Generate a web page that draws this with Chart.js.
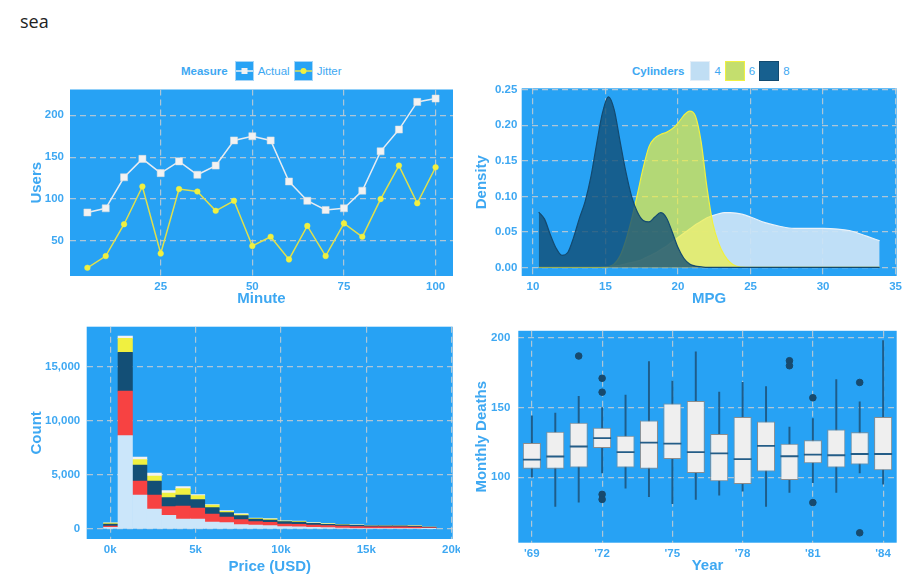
<!DOCTYPE html>
<html lang="en">
<head>
<meta charset="UTF-8">
<title>sea</title>
<script src="https://cdn.jsdelivr.net/npm/chart.js"></script>
<style>
  body { margin: 0; background: #fff; font-family: 'Liberation Sans', Arial, sans-serif; }
  #page { position: relative; width: 917px; height: 577px; overflow: hidden; }
  #title { position: absolute; left: 20px; top: 9px; font-family: 'Open Sans', sans-serif; font-size: 18px; line-height: 24px; color: #222; }
  canvas { position: absolute; }
  .legend { position: absolute; display: flex; align-items: center; height: 21px; color: #3ea8f2; font-size: 11.5px; white-space: nowrap; }
  .legend b { margin-right: 7px; }
  .legend svg { margin-right: 4px; display: block; }
  .legend span { margin-right: 4px; }
</style>
</head>
<body>
<div id="page">
  <div id="title">sea</div>

  <div class="legend" style="left:181px; top:60px;">
    <b>Measure</b>
    <svg width="19" height="20"><rect x="0.5" y="0.5" width="18" height="19" fill="#28a3f5" stroke="#a6d6f8"/><line x1="1" y1="10" x2="18" y2="10" stroke="#eef2f5" stroke-width="1.5"/><rect x="6.5" y="7" width="6" height="6" fill="#f2f2f2"/></svg>
    <span>Actual</span>
    <svg width="19" height="20"><rect x="0.5" y="0.5" width="18" height="19" fill="#28a3f5" stroke="#a6d6f8"/><line x1="1" y1="10" x2="18" y2="10" stroke="#e0e050" stroke-width="1.5"/><circle cx="9.5" cy="10" r="3" fill="#f0f040"/></svg>
    <span>Jitter</span>
  </div>

  <div class="legend" style="left:632px; top:60px;">
    <b style="margin-right:6px">Cylinders</b>
    <svg width="20" height="20"><rect x="0.5" y="0.5" width="19" height="19" fill="#c0def4" stroke="#e4eef8"/></svg>
    <span>4</span>
    <svg width="20" height="20"><rect x="0.5" y="0.5" width="19" height="19" fill="#c4de6e" stroke="#f0f040"/></svg>
    <span>6</span>
    <svg width="20" height="20"><rect x="0.5" y="0.5" width="19" height="19" fill="#17608f" stroke="#124a70"/></svg>
    <span>8</span>
  </div>

  <canvas id="usersChart" width="440" height="226" style="left:20px; top:84px;"></canvas>
  <canvas id="mpgChart" width="457" height="226" style="left:460px; top:84px;"></canvas>
  <canvas id="priceChart" width="440" height="257" style="left:20px; top:320px;"></canvas>
  <canvas id="deathsChart" width="457" height="257" style="left:460px; top:320px;"></canvas>
</div>

<script>
// ---- top left: users per minute ----
const minutes = [5, 10, 15, 20, 25, 30, 35, 40, 45, 50, 55, 60, 65, 70, 75, 80, 85, 90, 95, 100];
const actualUsers = [84, 89, 126, 148, 131, 145, 129, 140, 170, 175, 170, 121, 98, 87, 89, 110, 157, 183, 216, 220];
const jitterUsers = [18, 32, 70, 115, 35, 112, 109, 86, 98, 44, 55, 28, 68, 32, 71, 55, 100, 140, 95, 138];
const minuteTicks = [25, 50, 75, 100];
const minuteLabels = ['25', '50', '75', '100'];
const userTicks = [50, 100, 150, 200];
const userLabels = ['50', '100', '150', '200'];

// ---- top right: mpg density by cylinders ----
const mpgGrid = [10.4, 10.8, 11.2, 11.6, 12.0, 12.4, 12.8, 13.2, 13.6, 14.0, 14.4, 14.8, 15.2, 15.6, 16.0, 16.4, 16.8, 17.2,
  17.6, 18.0, 18.4, 18.8, 19.2, 19.6, 20.0, 20.4, 20.8, 21.2, 21.6, 22.0, 22.4, 22.8, 23.2, 23.6, 24.0, 24.4,
  25, 26, 27, 28, 29, 30, 31, 32, 33, 33.9];
const density4 = [0, 0, 0, 0, 0, 0, 0, 0, 0, 0, 0, 0.0005, 0.001, 0.002, 0.003, 0.005, 0.007, 0.009,
  0.012, 0.016, 0.020, 0.025, 0.030, 0.036, 0.042, 0.048, 0.054, 0.060, 0.065, 0.070, 0.073, 0.0755, 0.077, 0.077, 0.0765, 0.075,
  0.071, 0.063, 0.058, 0.055, 0.055, 0.055, 0.054, 0.051, 0.044, 0.0375];
const density6 = [0, 0, 0, 0, 0, 0, 0, 0, 0, 0, 0, 0, 0.001, 0.005, 0.016, 0.038, 0.068, 0.103,
  0.140, 0.170, 0.182, 0.187, 0.190, 0.195, 0.203, 0.214, 0.220, 0.213, 0.176, 0.112, 0.062, 0.034, 0.017, 0.007, 0.002, 0.0005,
  0, 0, 0, 0, 0, 0, 0, 0, 0, 0];
const density8 = [0.078, 0.068, 0.046, 0.027, 0.017, 0.021, 0.042, 0.069, 0.093, 0.128, 0.175, 0.218, 0.240, 0.222, 0.178, 0.135, 0.100, 0.078,
  0.066, 0.064, 0.071, 0.077, 0.070, 0.050, 0.028, 0.013, 0.005, 0.002, 0.001, 0, 0, 0, 0, 0, 0, 0,
  0, 0, 0, 0, 0, 0, 0, 0, 0, 0];
const mpgTicks = [10, 15, 20, 25, 30, 35];
const mpgLabels = ['10', '15', '20', '25', '30', '35'];
const densityTicks = [0, 0.05, 0.10, 0.15, 0.20, 0.25];
const densityLabels = ['0.00', '0.05', '0.10', '0.15', '0.20', '0.25'];

// ---- bottom left: price histogram stacked by cut ----
const priceBins = [30, 877, 1724, 2571, 3418, 4265, 5112, 5959, 6806, 7653, 8500, 9347, 10194, 11041, 11888, 12735,
  13582, 14429, 15276, 16123, 16970, 17817, 18664];
const countIdeal = [150, 8626, 3142, 1848, 1263, 924, 924, 647, 585, 400, 370, 308, 216, 200, 150, 120, 80, 60, 50, 50, 50, 60, 30];
const countPremium = [130, 4128, 1294, 1294, 801, 1201, 1017, 739, 524, 462, 308, 308, 246, 240, 216, 200, 200, 170, 150, 150, 150, 120, 90];
const countVeryGood = [180, 3574, 1479, 1294, 832, 1017, 770, 585, 400, 370, 246, 216, 216, 210, 160, 120, 110, 110, 90, 90, 90, 100, 50];
const countGood = [90, 1294, 493, 462, 431, 585, 370, 246, 123, 92, 62, 92, 62, 60, 30, 30, 20, 20, 10, 10, 10, 10, 5];
const countFair = [30, 215, 246, 277, 216, 185, 92, 30, 62, 92, 30, 30, 20, 20, 40, 40, 30, 20, 20, 20, 20, 60, 5];
const priceTicks = [0, 5000, 10000, 15000, 20000];
const priceLabels = ['0k', '5k', '10k', '15k', '20k'];
const countTicks = [0, 5000, 10000, 15000];
const countLabels = ['0', '5,000', '10,000', '15,000'];

// ---- bottom right: monthly deaths per year (box plot) ----
const years = [1969, 1970, 1971, 1972, 1973, 1974, 1975, 1976, 1977, 1978, 1979, 1980, 1981, 1982, 1983, 1984];
const whiskerLow = [100, 79, 82, 103, 92, 86, 81, 84, 87, 90, 79, 89, 96, 89, 103, 95];
const boxQ1 = [106, 106, 107, 121, 107, 106, 113, 103, 97, 95, 104, 98, 110, 107, 109, 105];
const boxMedian = [112.6, 114.8, 122, 128, 118, 124.8, 124, 118, 117, 113, 122.5, 115, 116.2, 115.7, 116.6, 116.6];
const boxQ3 = [124.6, 132.6, 139, 135.4, 129.7, 140.7, 152.9, 154.6, 130.9, 143.1, 140, 123.9, 126.5, 134.2, 132.3, 143.1];
const whiskerHigh = [144, 146, 158, 150, 159, 183, 169, 190, 161, 168, 165, 136, 142, 170, 154, 198];
const outlierYears = [1971, 1972, 1972, 1972, 1972, 1980, 1980, 1981, 1981, 1983, 1983];
const outlierDeaths = [187, 171, 161, 87.6, 84, 183.6, 180, 157, 81.7, 168, 60];
const yearTicks = [1969, 1972, 1975, 1978, 1981, 1984];
const yearLabels = ["'69", "'72", "'75", "'78", "'81", "'84"];
const deathTicks = [100, 150, 200];
const deathLabels = ['100', '150', '200'];

// ---- shared look ----
const PANEL = '#27a2f4';
const GRID = 'rgba(208, 208, 208, 0.8)';
Chart.defaults.font.family = "'Liberation Sans', Arial, sans-serif";
Chart.defaults.color = '#3ea8f2';
Chart.defaults.animation = false;

const panelBg = {
  id: 'panelBg',
  beforeDraw(chart) {
    const a = chart.chartArea, ctx = chart.ctx;
    ctx.save();
    ctx.fillStyle = PANEL;
    ctx.fillRect(a.left, a.top, a.right - a.left, a.bottom - a.top);
    ctx.restore();
  }
};

function axis(o) {
  const horizontal = o.pos === 'x';
  return {
    type: 'linear', min: o.min, max: o.max, offset: false, stacked: !!o.stacked,
    afterBuildTicks: s => { s.ticks = o.ticks.map(v => ({ value: v })); },
    afterFit: s => {
      if (horizontal) { s.height = o.size; s.paddingLeft = 0; s.paddingRight = 0; }
      else { s.width = o.size; s.paddingTop = 0; s.paddingBottom = 0; }
    },
    ticks: { autoSkip: false, maxRotation: 0, padding: o.tickPad, font: { size: 11.5, weight: 'bold' }, callback: (v, i) => o.labels[i] },
    grid: { color: GRID, lineWidth: 1.2, drawTicks: false, offset: false },
    border: { display: false, dash: [6, 4] },
    title: { display: true, text: o.title, font: { size: 15, weight: 'bold' },
      padding: horizontal ? { top: 0, bottom: o.titlePad } : { top: o.titlePad, bottom: 0 } }
  };
}

const basePlugins = { legend: { display: false }, tooltip: { enabled: false } };

// top left
new Chart(document.getElementById('usersChart'), {
  type: 'line',
  data: {
    datasets: [
      { label: 'Actual', data: minutes.map((m, i) => ({ x: m, y: actualUsers[i] })),
        borderColor: '#e6ecf2', borderWidth: 1.5, pointStyle: 'rect', pointRadius: 5,
        pointBackgroundColor: '#f2f2f2', pointBorderColor: '#dcdcdc', pointBorderWidth: 0.5 },
      { label: 'Jitter', data: minutes.map((m, i) => ({ x: m, y: jitterUsers[i] })),
        borderColor: '#dfe04c', borderWidth: 1.5, pointStyle: 'circle', pointRadius: 2.8,
        pointBackgroundColor: '#f0f040', pointBorderColor: '#f0f040', pointBorderWidth: 0.5 }
    ]
  },
  options: {
    responsive: false,
    layout: { padding: { top: 4, right: 7, left: 0, bottom: 0 } },
    plugins: basePlugins,
    scales: {
      x: axis({ pos: 'x', min: 0.25, max: 104.75, ticks: minuteTicks, labels: minuteLabels, title: 'Minute', size: 34, tickPad: 4.4, titlePad: 1.7 }),
      y: axis({ pos: 'y', min: 8.2, max: 230.8, ticks: userTicks, labels: userLabels, title: 'Users', size: 50, tickPad: 6, titlePad: 8 })
    }
  },
  plugins: [panelBg]
});

// top right
function densityData(vals) { return mpgGrid.map((m, i) => ({ x: m, y: vals[i] })); }
new Chart(document.getElementById('mpgChart'), {
  type: 'line',
  data: {
    datasets: [
      { label: '8', data: densityData(density8), fill: 'origin', backgroundColor: 'rgba(19, 79, 118, 0.8)',
        borderColor: '#134a70', borderWidth: 1.2, pointRadius: 0, cubicInterpolationMode: 'monotone' },
      { label: '6', data: densityData(density6), fill: 'origin', backgroundColor: 'rgba(240, 240, 64, 0.7)',
        borderColor: '#f0f040', borderWidth: 1.2, pointRadius: 0, cubicInterpolationMode: 'monotone' },
      { label: '4', data: densityData(density4), fill: 'origin', backgroundColor: 'rgba(204, 228, 246, 0.92)',
        borderColor: '#eaf2f9', borderWidth: 1.2, pointRadius: 0, cubicInterpolationMode: 'monotone' }
    ]
  },
  options: {
    responsive: false,
    layout: { padding: { top: 4.3, right: 20.3, left: 0, bottom: 0 } },
    plugins: basePlugins,
    scales: {
      x: axis({ pos: 'x', min: 9.225, max: 35.075, ticks: mpgTicks, labels: mpgLabels, title: 'MPG', size: 34, tickPad: 4.4, titlePad: 1.7 }),
      y: axis({ pos: 'y', min: -0.012, max: 0.252, ticks: densityTicks, labels: densityLabels, title: 'Density', size: 61.7, tickPad: 4.4, titlePad: 13 })
    }
  },
  plugins: [panelBg]
});

// bottom left
function binData(vals) { return priceBins.map((b, i) => ({ x: b, y: vals[i] })); }
const cutSeries = [
  ['Ideal', countIdeal, '#cbe6fa'],
  ['Premium', countPremium, '#f74242'],
  ['Very Good', countVeryGood, '#134f76'],
  ['Good', countGood, '#f0f040'],
  ['Fair', countFair, '#f2f2f2']
];
new Chart(document.getElementById('priceChart'), {
  type: 'bar',
  data: {
    datasets: cutSeries.map(([name, vals, color]) => ({
      label: name, data: binData(vals), backgroundColor: color, borderWidth: 0,
      barPercentage: 1, categoryPercentage: 1
    }))
  },
  options: {
    responsive: false,
    layout: { padding: { top: 6.7, right: 7.3, left: 0, bottom: 0 } },
    plugins: basePlugins,
    scales: {
      x: axis({ pos: 'x', min: -1380, max: 20060, ticks: priceTicks, labels: priceLabels, title: 'Price (USD)', size: 38, tickPad: 4.1, titlePad: 1.3, stacked: true }),
      y: axis({ pos: 'y', min: -924, max: 18697, ticks: countTicks, labels: countLabels, title: 'Count', size: 66.7, tickPad: 6.5, titlePad: 8.2, stacked: true })
    }
  },
  plugins: [panelBg]
});

// bottom right
new Chart(document.getElementById('deathsChart'), {
  type: 'bar',
  data: {
    datasets: [
      { type: 'scatter', label: 'outliers', data: outlierYears.map((y, i) => ({ x: y, y: outlierDeaths[i] })),
        pointRadius: 3.3, pointBackgroundColor: '#174a6e', pointBorderColor: '#174a6e' },
      { type: 'scatter', label: 'median', data: years.map((y, i) => ({ x: y, y: boxMedian[i] })),
        pointStyle: 'line', pointRadius: 9, pointBorderColor: '#245d87', pointBorderWidth: 1.8 },
      { label: 'box', data: years.map((y, i) => ({ x: y, y: [boxQ1[i], boxQ3[i]] })), grouped: false,
        backgroundColor: '#efefef', borderColor: '#8c8c8c', borderWidth: 1, borderSkipped: false,
        barPercentage: 0.77, categoryPercentage: 1 },
      { label: 'whisker', data: years.map((y, i) => ({ x: y, y: [whiskerLow[i], whiskerHigh[i]] })), grouped: false,
        backgroundColor: '#1e5d8a', borderWidth: 0, barThickness: 1.3 }
    ]
  },
  options: {
    responsive: false,
    layout: { padding: { top: 6, right: 20.3, left: 0, bottom: 0 } },
    plugins: basePlugins,
    scales: {
      x: axis({ pos: 'x', min: 1968.42, max: 1984.58, ticks: yearTicks, labels: yearLabels, title: 'Year', size: 34.3, tickPad: 4.7, titlePad: 2 }),
      y: axis({ pos: 'y', min: 52.9, max: 205.1, ticks: deathTicks, labels: deathLabels, title: 'Monthly Deaths', size: 58.3, tickPad: 8, titlePad: 13 })
    }
  },
  plugins: [panelBg]
});
</script>
</body>
</html>
